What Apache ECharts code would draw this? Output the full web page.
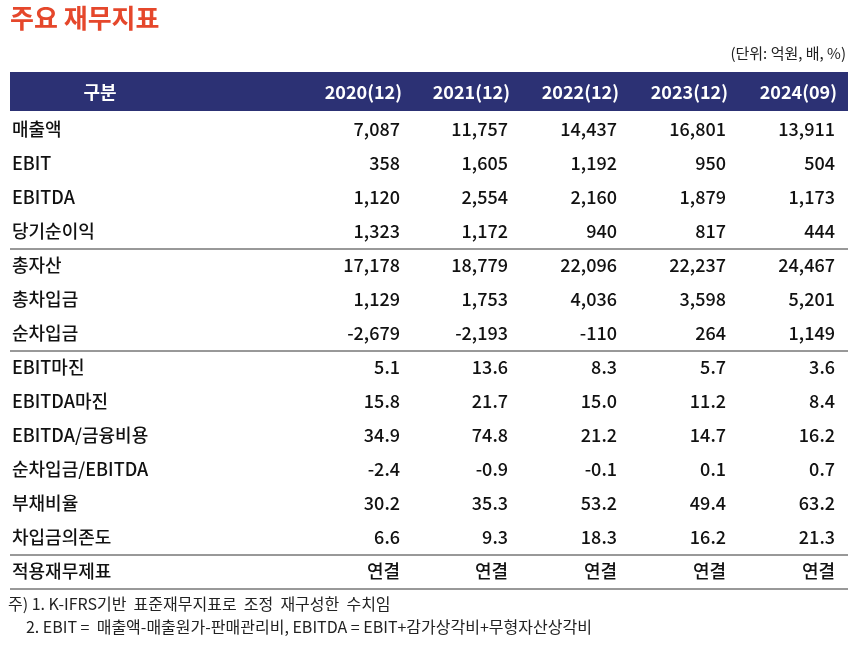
<!DOCTYPE html>
<html>
<head>
<meta charset="utf-8">
<script src="https://cdn.jsdelivr.net/npm/echarts@6/dist/echarts.min.js"></script>
<style>
  html, body { margin: 0; padding: 0; background: #fff; }
  #chart { width: 860px; height: 656px; }
</style>
</head>
<body>
<div id="chart"></div>
<script>
const title = "주요 재무지표";
const unit = "(단위: 억원, 배, %)";
const headFirst = "구분";
const years = ["2020(12)", "2021(12)", "2022(12)", "2023(12)", "2024(09)"];
const groups = [
  [
    ["매출액", "7,087", "11,757", "14,437", "16,801", "13,911"],
    ["EBIT", "358", "1,605", "1,192", "950", "504"],
    ["EBITDA", "1,120", "2,554", "2,160", "1,879", "1,173"],
    ["당기순이익", "1,323", "1,172", "940", "817", "444"],
  ],
  [
    ["총자산", "17,178", "18,779", "22,096", "22,237", "24,467"],
    ["총차입금", "1,129", "1,753", "4,036", "3,598", "5,201"],
    ["순차입금", "-2,679", "-2,193", "-110", "264", "1,149"],
  ],
  [
    ["EBIT마진", "5.1", "13.6", "8.3", "5.7", "3.6"],
    ["EBITDA마진", "15.8", "21.7", "15.0", "11.2", "8.4"],
    ["EBITDA/금융비용", "34.9", "74.8", "21.2", "14.7", "16.2"],
    ["순차입금/EBITDA", "-2.4", "-0.9", "-0.1", "0.1", "0.7"],
    ["부채비율", "30.2", "35.3", "53.2", "49.4", "63.2"],
    ["차입금의존도", "6.6", "9.3", "18.3", "16.2", "21.3"],
  ],
  [
    ["적용재무제표", "연결", "연결", "연결", "연결", "연결"],
  ],
];
const notes = [
  "주) 1. K-IFRS기반  표준재무지표로  조정  재구성한  수치임",
  "     2. EBIT =  매출액-매출원가-판매관리비, EBITDA = EBIT+감가상각비+무형자산상각비",
];

const FONT = '"Noto Sans CJK KR", "Noto Sans", sans-serif';
const left = 10, right = 848;
const colX = [400, 508, 617, 726, 835];
const rowH = 34;
let elements = [];

elements.push({ type: "text", left: 10, top: 5,
  style: { text: title, fill: "#E5472B", font: "bold 26px " + FONT } });
elements.push({ type: "text", right: 14, top: 46,
  style: { text: unit, fill: "#222", font: "15px " + FONT } });

// 헤더
elements.push({ type: "rect", shape: { x: left, y: 72, width: right - left, height: 39 },
  style: { fill: "#2C3174" } });
elements.push({ type: "text", x: 100, y: 92,
  style: { text: headFirst, fill: "#fff", font: "bold 18px " + FONT, align: "center", verticalAlign: "middle" } });
years.forEach((y, i) => {
  elements.push({ type: "text", x: colX[i] + 2, y: 92,
    style: { text: y, fill: "#fff", font: "bold 18px " + FONT, align: "right", verticalAlign: "middle" } });
});

// 본문
let y = 111;
groups.forEach((g) => {
  g.forEach((row) => {
    const cy = y + rowH / 2 + 1;
    elements.push({ type: "text", x: 12, y: cy,
      style: { text: row[0], fill: "#111", font: "500 18px " + FONT, verticalAlign: "middle" } });
    row.slice(1).forEach((v, i) => {
      elements.push({ type: "text", x: colX[i], y: cy,
        style: { text: v, fill: "#111", font: "500 18px " + FONT, align: "right", verticalAlign: "middle" } });
    });
    y += rowH;
  });
  elements.push({ type: "line", shape: { x1: left, y1: y + 2, x2: right, y2: y + 2 },
    style: { stroke: "#333", lineWidth: 1 } });
});

notes.forEach((n, i) => {
  elements.push({ type: "text", x: 8, y: 604 + i * 23,
    style: { text: n, fill: "#222", font: "16px " + FONT, verticalAlign: "middle" } });
});

const chart = echarts.init(document.getElementById("chart"));
chart.setOption({ animation: false, graphic: { elements } });
window.addEventListener("resize", () => chart.resize());
</script>
</body>
</html>
